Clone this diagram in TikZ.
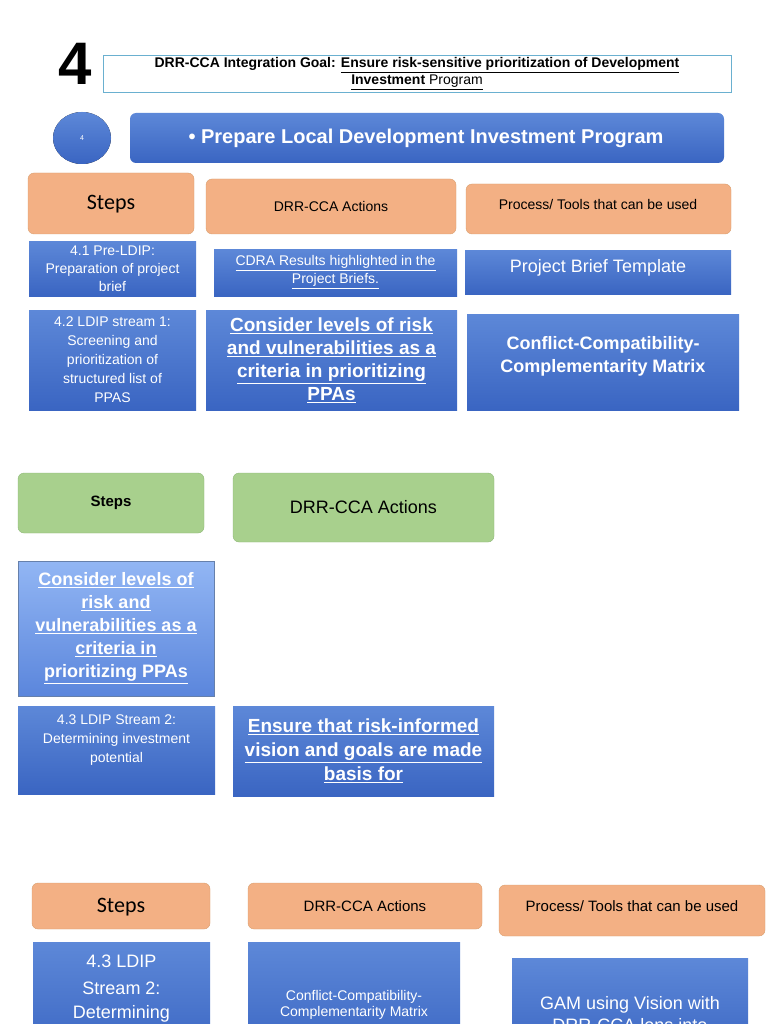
\documentclass[tikz,border=0pt]{standalone}
\usepackage{fontspec}
\setmainfont{Liberation Sans}
\newfontfamily\carlitofont{Carlito}
\usepackage{xcolor}
\definecolor{bluetop}{HTML}{5D88D8}
\definecolor{bluebot}{HTML}{3A65C2}
\definecolor{ltop}{HTML}{92B6F4}
\definecolor{lbot}{HTML}{5B86DC}
\definecolor{orng}{HTML}{F3B084}
\definecolor{orngd}{HTML}{D9A070}
\definecolor{grn}{HTML}{A8D08D}
\definecolor{grnd}{HTML}{8FB878}
\definecolor{frame}{HTML}{6AB0D0}
\begin{document}
\begin{tikzpicture}[x=1pt,y=-1pt,
  obox/.style={fill=orng,draw=orngd,rounded corners=6pt},
  gbox/.style={fill=grn,draw=grnd,rounded corners=6pt},
  bshade/.style={top color=bluetop,bottom color=bluebot},
  lbl/.style={align=center,inner sep=0pt}]
\useasboundingbox (0,0) rectangle (768,1024);
\clip (0,0) rectangle (768,1024);
\fill[white] (0,0) rectangle (768,1024);
% header
\node[lbl,font=\bfseries\fontsize{60}{60}\selectfont,anchor=center] (big) at (75,64) {4};
\draw[frame,line width=0.8pt] (103,55) rectangle (731,92);
\node[lbl,font=\fontsize{14}{17}\selectfont] (goal) at (417,73.5) {\textbf{DRR-CCA Integration Goal: \underline{Ensure risk-sensitive prioritization of Development}}\\\underline{\textbf{Investment} Program}};
\fill[bshade] (82,138) ellipse (29pt and 26pt);
\node[lbl,text=white,font=\fontsize{7}{8}\selectfont] (c4t) at (82,138) {4};
\shade[bshade,rounded corners=6pt] (130,113) rectangle (724,163);
\node[lbl,text=white,font=\bfseries\fontsize{20}{24}\selectfont] (banner) at (426,138) {• Prepare Local Development Investment Program};
% row headers 1
\draw[obox] (28,173) rectangle (194,234); \node[lbl,font=\carlitofont\fontsize{22}{26}\selectfont] (s1) at (111,204) {Steps};
\draw[obox] (206,179) rectangle (456,234); \node[lbl,font=\fontsize{14}{17}\selectfont] (a1) at (331,206) {DRR-CCA Actions};
\draw[obox] (466,184) rectangle (731,234); \node[lbl,font=\fontsize{14}{17}\selectfont] (p1) at (598,204) {Process/ Tools that can be used};
% row 1
\shade[bshade] (29,241) rectangle (196,296);
\node[lbl,text=white,font=\fontsize{14}{18}\selectfont] (r11) at (112.5,268.5) {4.1 Pre-LDIP:\\Preparation of project\\brief};
\shade[bshade] (214,249) rectangle (457,296);
\node[lbl,text=white,font=\fontsize{14}{18}\selectfont] (r12) at (335.5,272) {\underline{CDRA Results highlighted in the}\\\underline{Project Briefs.}};
\shade[bshade] (465,250) rectangle (731,294);
\node[lbl,text=white,font=\fontsize{18}{21}\selectfont] (r13) at (598,268) {Project Brief Template};
% row 2
\shade[bshade] (29,310) rectangle (196,410);
\node[lbl,text=white,font=\fontsize{14}{19}\selectfont] (r21) at (112.5,360) {4.2 LDIP stream 1:\\Screening and\\prioritization of\\structured list of\\PPAS};
\shade[bshade] (206,310) rectangle (457,410);
\node[lbl,text=white,font=\bfseries\fontsize{19}{23}\selectfont] (r22) at (331.5,360) {\underline{Consider levels of risk}\\\underline{and vulnerabilities as a}\\\underline{criteria in prioritizing}\\\underline{PPAs}};
\shade[bshade] (467,314) rectangle (739,410);
\node[lbl,text=white,font=\bfseries\fontsize{18}{23}\selectfont] (r23) at (603,356) {Conflict-Compatibility-\\Complementarity Matrix};
% green headers
\draw[gbox] (18,473) rectangle (204,533); \node[lbl,font=\bfseries\fontsize{15}{18}\selectfont] (s2) at (111,503) {Steps};
\draw[gbox] (233,473) rectangle (494,542); \node[lbl,font=\fontsize{18}{21}\selectfont] (a2) at (363.5,507) {DRR-CCA Actions};
% light blue
\shade[top color=ltop,bottom color=lbot] (18,561) rectangle (214,696);
\draw[ltop!70!black,line width=0.4pt] (18,561) rectangle (214,696);
\node[lbl,text=white,font=\bfseries\fontsize{18}{23}\selectfont] (m1) at (116,628) {\underline{Consider levels of}\\\underline{risk and}\\\underline{vulnerabilities as a}\\\underline{criteria in}\\\underline{prioritizing PPAs}};
\shade[bshade] (18,706) rectangle (215,794);
\node[lbl,text=white,font=\fontsize{14}{19}\selectfont] (m2) at (116.5,740) {4.3 LDIP Stream 2:\\Determining investment\\potential};
\shade[bshade] (233,706) rectangle (494,796);
\node[lbl,text=white,font=\bfseries\fontsize{19}{24}\selectfont] (m3) at (363.5,751) {\underline{Ensure that risk-informed}\\\underline{vision and goals are made}\\\underline{basis for}};
% bottom headers
\draw[obox] (32,883) rectangle (210,929); \node[lbl,font=\carlitofont\fontsize{22}{26}\selectfont] (s3) at (121,907) {Steps};
\draw[obox] (248,883) rectangle (482,929); \node[lbl,font=\fontsize{15}{18}\selectfont] (a3) at (365,906) {DRR-CCA Actions};
\draw[obox] (499,885) rectangle (765,936); \node[lbl,font=\fontsize{15}{18}\selectfont] (p3) at (632,906) {Process/ Tools that can be used};
% bottom row (clipped)
\shade[bshade] (33,942) rectangle (210,1060);
\node[lbl,text=white,anchor=north,font=\fontsize{18}{24}\selectfont] (b1) at (121.5,955) {4.3 LDIP\\[3pt]Stream 2:\\Determining};
\shade[bshade] (248,942) rectangle (460,1060);
\node[lbl,text=white,font=\fontsize{14}{16}\selectfont] (b2) at (354,1005) {Conflict-Compatibility-\\Complementarity Matrix};
\shade[bshade] (512,958) rectangle (748,1060);
\node[lbl,text=white,anchor=north,font=\fontsize{18}{22}\selectfont] (b3) at (630,996) {GAM using Vision with\\DRR-CCA lens into};
\end{tikzpicture}
\end{document}
